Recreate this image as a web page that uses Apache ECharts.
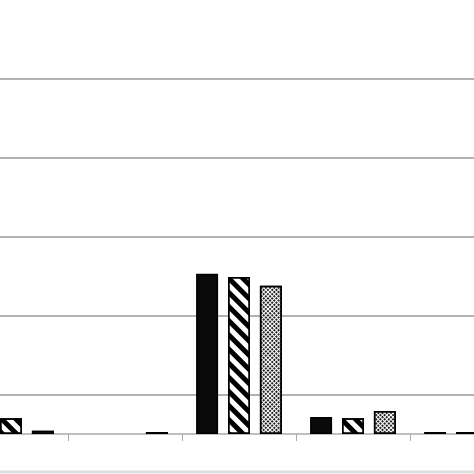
<!DOCTYPE html><html><head><meta charset="utf-8"><script src="https://cdn.jsdelivr.net/npm/echarts@6/dist/echarts.min.js"></script><style>html,body{margin:0;padding:0;background:#fff;overflow:hidden;width:474px;height:474px}#c{width:570px;height:474px;margin-left:-46px}</style></head><body><div id="c"></div><script>
const categories=['A','B','C','D','E'];
const series1=[0.4,null,4.06,0.43,0.05];
const series2=[0.4,null,3.98,0.4,0.05];
const series3=[0.08,0.05,3.76,0.58,null];
const gridValues=[1,3,5,7,9];
const chart=echarts.init(document.getElementById('c'));
const border={borderColor:'#000',borderWidth:1.5};
chart.setOption({animation:false,
grid:{left:0,right:0,top:-2,bottom:40,containLabel:false},
xAxis:{type:'category',data:categories,axisLabel:{show:false},axisLine:{lineStyle:{color:'#aaa',width:1.5}},axisTick:{show:true,length:7,lineStyle:{color:'#aaa'}}},
yAxis:{type:'value',min:0,max:11,show:false,splitLine:{show:false}},
graphic:[{type:'line',shape:{x1:0,y1:472,x2:570,y2:472},style:{stroke:'#ddd',lineWidth:3}}],
series:[
{type:'bar',data:series1,barWidth:22,barGap:'45%',itemStyle:Object.assign({color:'#0a0a0a'},border),
 markLine:{silent:true,symbol:'none',label:{show:false},lineStyle:{color:'#999',type:'solid',width:1.5},data:gridValues.map(v=>({yAxis:v})),z:0}},
{type:'bar',data:series2,barWidth:22,barGap:'45%',itemStyle:Object.assign({color:'#fff',decal:{symbol:'rect',color:'#000',dashArrayX:[1,0],dashArrayY:[5,5],rotation:Math.PI/4}},border)},
{type:'bar',data:series3,barWidth:22,barGap:'45%',itemStyle:Object.assign({color:'#fff',decal:{symbol:'rect',color:'#222',symbolSize:1,dashArrayX:[2,1],dashArrayY:[2,1],rotation:Math.PI/4}},border)}
]});
</script></body></html>
